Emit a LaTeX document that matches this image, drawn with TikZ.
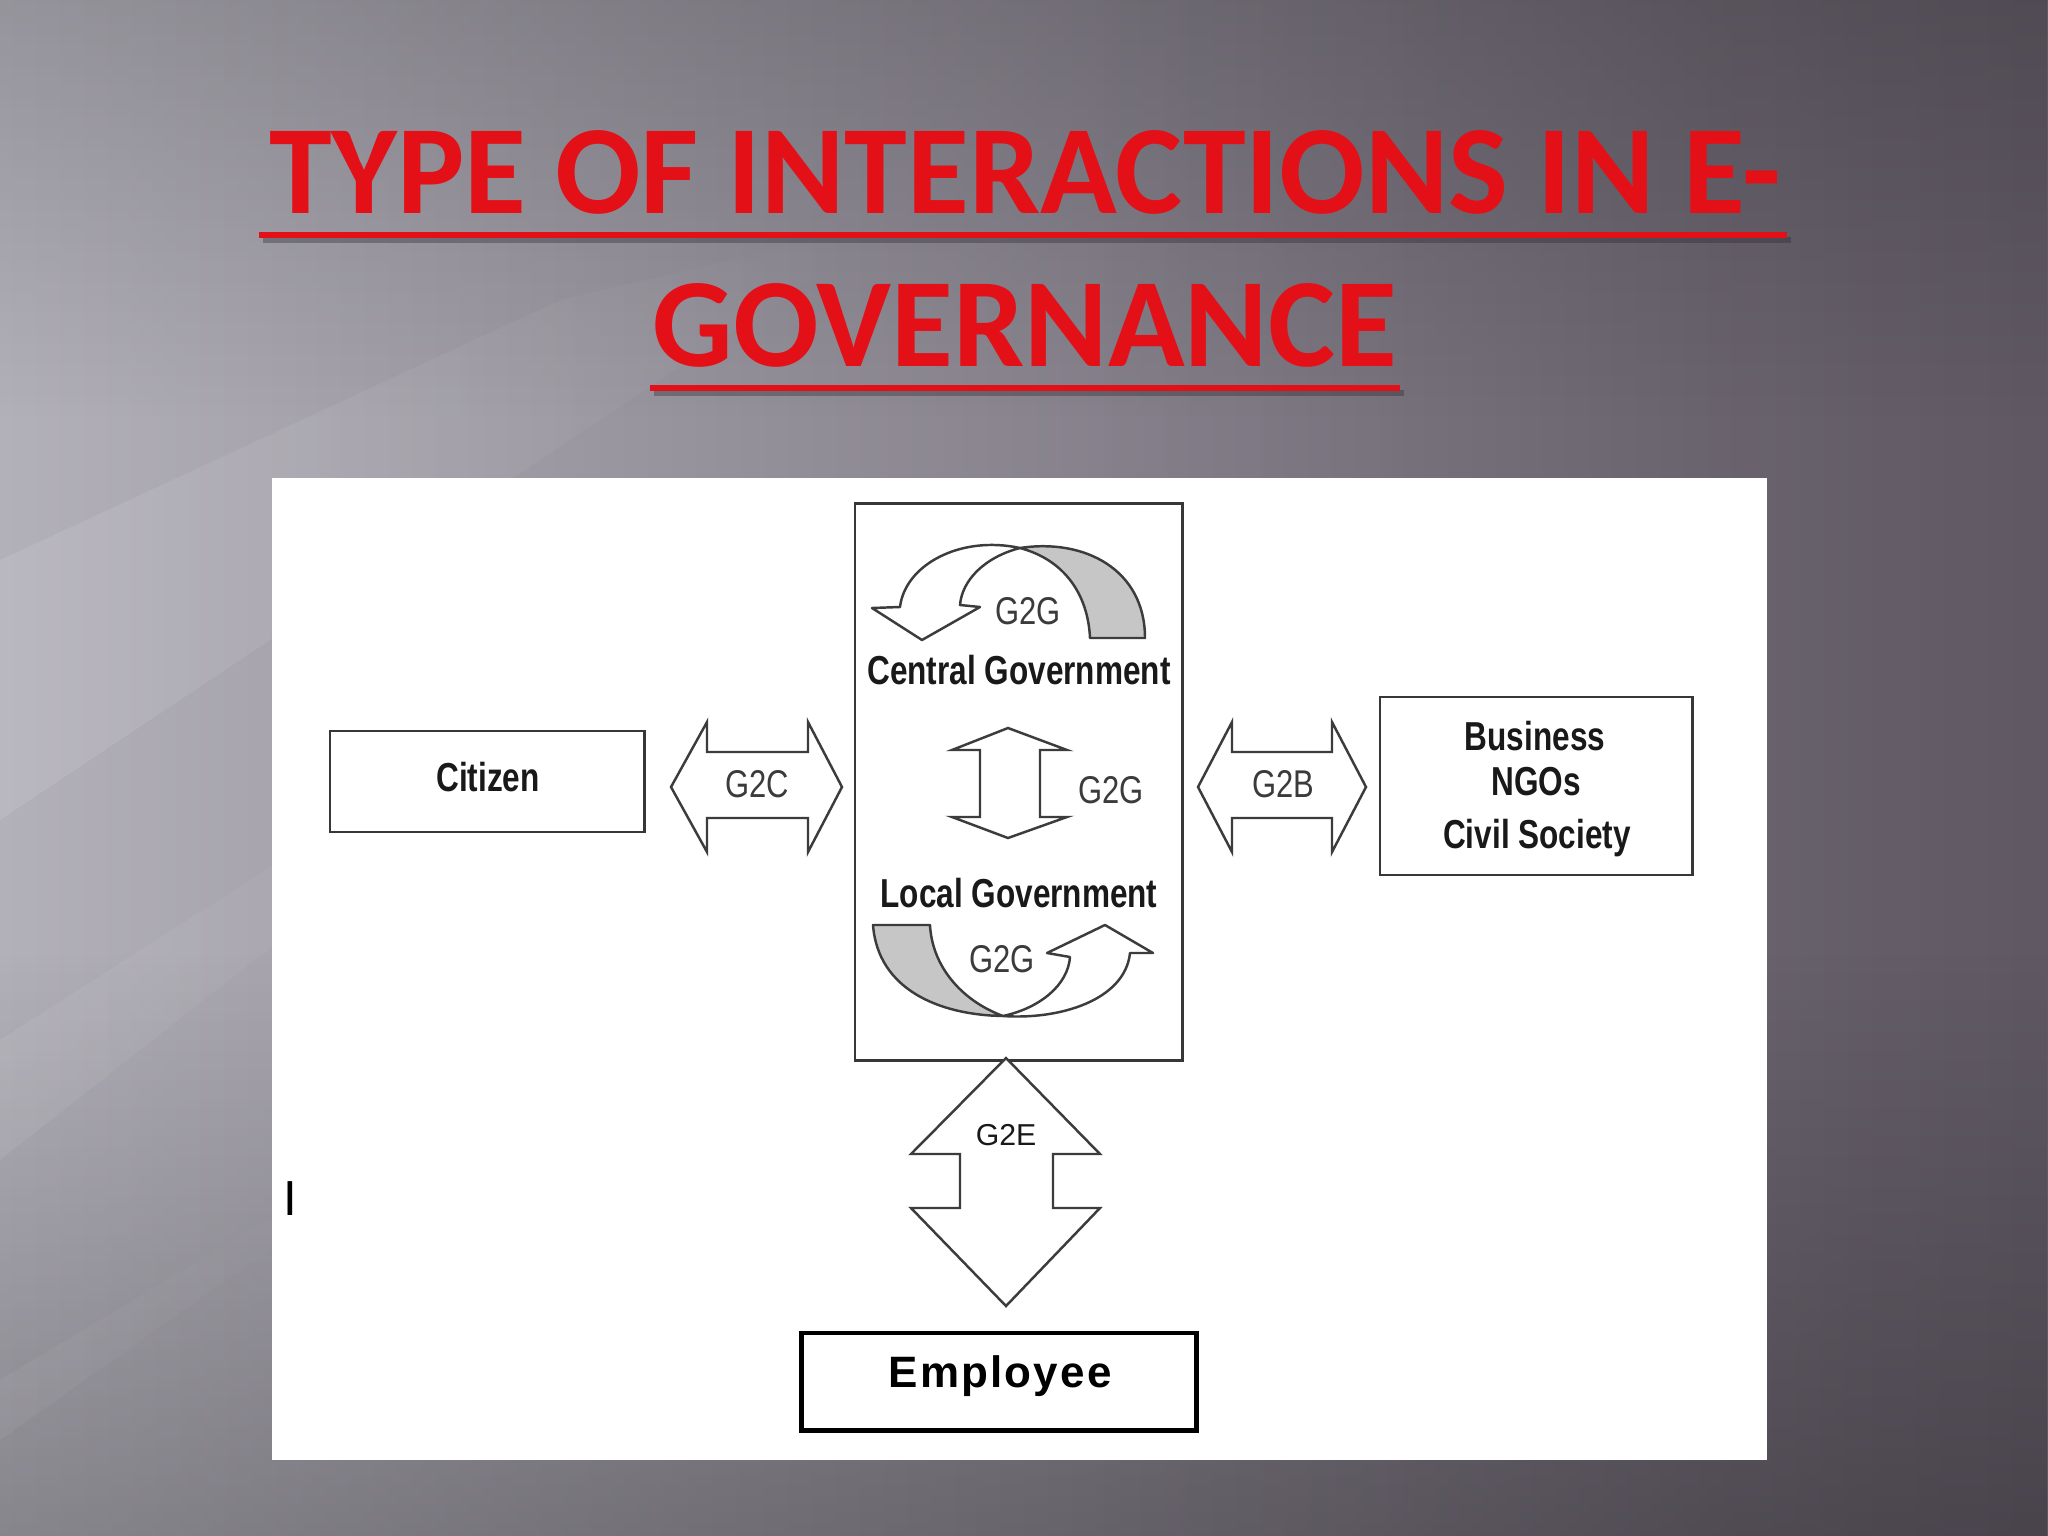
\documentclass[tikz,border=0pt]{standalone}
\usepackage{fontspec}
\setmainfont{Liberation Sans}
\newfontfamily\titlefont{Carlito}
\newfontfamily\narrowfont[FakeStretch=0.78]{Liberation Sans}
\newfontfamily\lblfont[FakeStretch=0.8]{Liberation Sans}
\newfontfamily\empfont[LetterSpace=5]{Liberation Sans}
\usetikzlibrary{fadings}
\tikzfading[name=fadetop, top color=transparent!0, bottom color=transparent!100]
\tikzfading[name=fadebottom, top color=transparent!100, bottom color=transparent!0]
\tikzfading[name=fadeleft, left color=transparent!0, right color=transparent!100]
\tikzfading[name=faderight, left color=transparent!100, right color=transparent!0]
\definecolor{titlered}{RGB}{228,16,24}
\definecolor{shadowc}{RGB}{40,36,44}
\definecolor{boxline}{RGB}{55,55,55}
\definecolor{arrline}{RGB}{60,60,60}
\definecolor{ribbon}{RGB}{198,198,198}
\definecolor{txt}{RGB}{25,25,25}
\definecolor{bgL}{RGB}{178,176,185}
\definecolor{bgM}{RGB}{128,124,134}
\definecolor{bgR}{RGB}{96,89,100}
\begin{document}
\begin{tikzpicture}[x=0.01cm,y=-0.01cm,
  box/.style={draw=boxline, line width=0.8pt, fill=white, inner sep=0pt},
  blockarrow/.style={draw=arrline, line width=0.7pt, fill=white, line join=miter},
  ribbonpart/.style={draw=arrline, line width=0.7pt, fill=ribbon, line join=round},
  gname/.style={font=\narrowfont\bfseries\fontsize{11.5}{13}\selectfont, text=txt, inner sep=0pt},
  lbl/.style={font=\lblfont\fontsize{11}{12}\selectfont, text=txt!85, inner sep=0pt},
  titletext/.style={font=\titlefont\bfseries\fontsize{36}{40}\selectfont, text=titlered, inner sep=0pt, anchor=base}
]
\useasboundingbox (0,0) rectangle (2048,1536);
% background
\shade[left color=bgL, middle color=bgM, right color=bgR] (0,0) rectangle (2048,1536);
\fill[bgR, opacity=0.35, path fading=faderight] (1100,0) rectangle (2048,1536);
\fill[black, opacity=0.16, path fading=fadetop] (0,0) rectangle (2048,420);
\fill[black, opacity=0.24, path fading=fadebottom] (0,950) rectangle (2048,1536);
\fill[white, opacity=0.10, path fading=fadeleft] (0,560) -- (560,300) -- (900,220) -- (0,820) -- cycle;
\fill[white, opacity=0.07, path fading=fadeleft] (0,1040) -- (500,720) -- (560,720) -- (0,1160) -- cycle;
\fill[white, opacity=0.05, path fading=fadeleft] (0,1380) -- (300,1200) -- (340,1200) -- (0,1440) -- cycle;

% title
\fill[shadowc, opacity=0.35] (263,237) rectangle (1791,243);
\fill[shadowc, opacity=0.35] (654,390) rectangle (1404,396);
\node[titletext] (title1) at (1025,213) {TYPE OF INTERACTIONS IN E-};
\node[titletext] (title2) at (1025,366) {GOVERNANCE};
\fill[titlered] (259,232) rectangle (1787,238);
\fill[titlered] (650,385) rectangle (1400,391);

% white panel
\fill[white] (272,478) rectangle (1767,1460);

% boxes
\node[box, minimum width=3.14cm, minimum height=1.01cm] (citizen) at (487,781.5) {};
\node[gname] (citizent) at (488,777) {Citizen};
\node[box, minimum width=3.27cm, minimum height=5.56cm] (gov) at (1018.5,782) {};
\node[box, minimum width=3.12cm, minimum height=1.78cm] (biz) at (1536,786) {};
\node[gname] (biz1) at (1535,736) {Business};
\node[gname] (biz2) at (1536,782) {NGOs};
\node[gname] (biz3) at (1537,838) {Civil Society};
\node[box, line width=1.4pt, draw=black, minimum width=3.94cm, minimum height=0.97cm] (emp) at (999,1381.5) {};
\node[font=\empfont\bfseries\fontsize{12.5}{14}\selectfont, text=black, inner sep=0pt] (empt) at (1000,1376) {Employee};

% central / local labels
\node[gname] (central) at (1019,670) {Central Government};
\node[gname] (local) at (1019,893) {Local Government};

% top curved arrow (G2G)
\filldraw[ribbonpart] (1020,548) .. controls (1085,538) and (1145,570) .. (1145,638)
  -- (1090,638) .. controls (1088,595) and (1065,560) .. (1020,548) -- cycle;
\filldraw[blockarrow, line join=round] (1020,548) .. controls (960,535) and (905,565) .. (900,607)
  -- (872,608) -- (922,640) -- (980,607) -- (960,605)
  .. controls (962,580) and (985,557) .. (1020,548) -- cycle;
\node[lbl] (g2gtop) at (1028,611) {G2G};

% bottom curved arrow (G2G)
\filldraw[ribbonpart] (873,925) -- (930,925) .. controls (932,965) and (960,1000) .. (1003,1016)
  .. controls (940,1015) and (878,990) .. (873,925) -- cycle;
\filldraw[blockarrow, line join=round] (1003,1016) .. controls (1060,1020) and (1125,1000) .. (1130,953)
  -- (1153,953) -- (1105,925) -- (1047,953) -- (1070,957)
  .. controls (1068,985) and (1040,1008) .. (1003,1016) -- cycle;
\node[lbl] (g2gbot) at (1002,959) {G2G};

% vertical G2G double arrow
\filldraw[blockarrow] (1008,728) -- (1067,750) -- (1040,750) -- (1040,817) -- (1067,817)
  -- (1008,838) -- (952,817) -- (980,817) -- (980,750) -- (952,750) -- cycle;
\node[lbl] (g2gmid) at (1111,790) {G2G};

% G2C double arrow
\filldraw[blockarrow] (671,787) -- (707,722) -- (707,752) -- (808,752) -- (808,722) -- (842,787)
  -- (808,852) -- (808,818) -- (707,818) -- (707,852) -- cycle;
\node[lbl] (g2c) at (757,784) {G2C};

% G2B double arrow
\filldraw[blockarrow] (1198,787) -- (1232,722) -- (1232,752) -- (1332,752) -- (1332,722) -- (1366,787)
  -- (1332,852) -- (1332,818) -- (1232,818) -- (1232,852) -- cycle;
\node[lbl] (g2b) at (1283,784) {G2B};

% G2E double arrow
\filldraw[blockarrow] (1006,1058) -- (1100,1154) -- (1053,1154) -- (1053,1208) -- (1100,1208)
  -- (1006,1306) -- (911,1208) -- (960,1208) -- (960,1154) -- (911,1154) -- cycle;
\node[font=\fontsize{8.6}{10}\selectfont, text=txt, inner sep=0pt] (g2e) at (1006,1135) {G2E};

% stray cursor-like letter
\node[font=\fontsize{14}{14}\selectfont, text=black, inner sep=0pt] (cursor) at (290,1199) {I};
\end{tikzpicture}
\end{document}
